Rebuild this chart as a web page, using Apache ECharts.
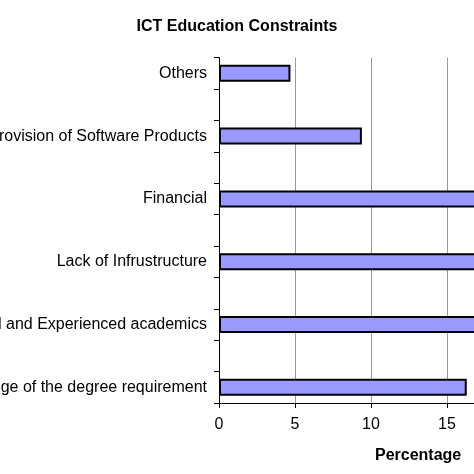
<!DOCTYPE html><html><head><meta charset="utf-8">
<script src="https://cdn.jsdelivr.net/npm/echarts@6/dist/echarts.min.js"></script>
<style>html,body{margin:0;padding:0;background:#fff}#c{width:474px;height:474px}</style></head><body><div id="c"></div>
<script>
const categories = ["Lack of knowledge of the degree requirement","","Lack of Trained and Experienced academics","","Lack of Infrustructure","","Financial","","Lack of Provision of Software Products","","Others"];
const values = [16.3,null,21,null,22,null,21.5,null,9.4,null,4.7];
const xTicks = [0,5,10,15,20,25];
const chart = echarts.init(document.getElementById('c'));
chart.setOption({
  animation:false,
  title:{text:'ICT Education Constraints',left:'center',top:14,textStyle:{fontFamily:'Liberation Sans',fontSize:16,fontWeight:'bold',color:'#000'}},
  graphic:[{type:'text',left:375,top:448,style:{text:'Percentage',font:'bold 16px "Liberation Sans"',fill:'#000'}}],
  grid:{left:219,top:57.6,bottom:71,right:-125,containLabel:false,outerBoundsMode:'none'},
  xAxis:{type:'value',min:xTicks[0],max:xTicks[xTicks.length-1],interval:5,
    axisLine:{show:true,lineStyle:{color:'#000'}},axisTick:{show:true,length:5,lineStyle:{color:'#000'}},
    axisLabel:{fontFamily:'Liberation Sans',fontSize:16,color:'#000',margin:14},
    splitLine:{show:true,lineStyle:{color:'#999'}}},
  yAxis:{type:'category',data:categories,
    axisLine:{show:true,lineStyle:{color:'#000'}},axisTick:{show:true,length:5,interval:0,lineStyle:{color:'#000'}},
    axisLabel:{interval:0,fontFamily:'Liberation Sans',fontSize:16,color:'#000',margin:12}},
  series:[{type:'bar',data:values,barWidth:17,itemStyle:{color:'#9999ff',borderColor:'#000',borderWidth:2}}]
});
</script></body></html>
